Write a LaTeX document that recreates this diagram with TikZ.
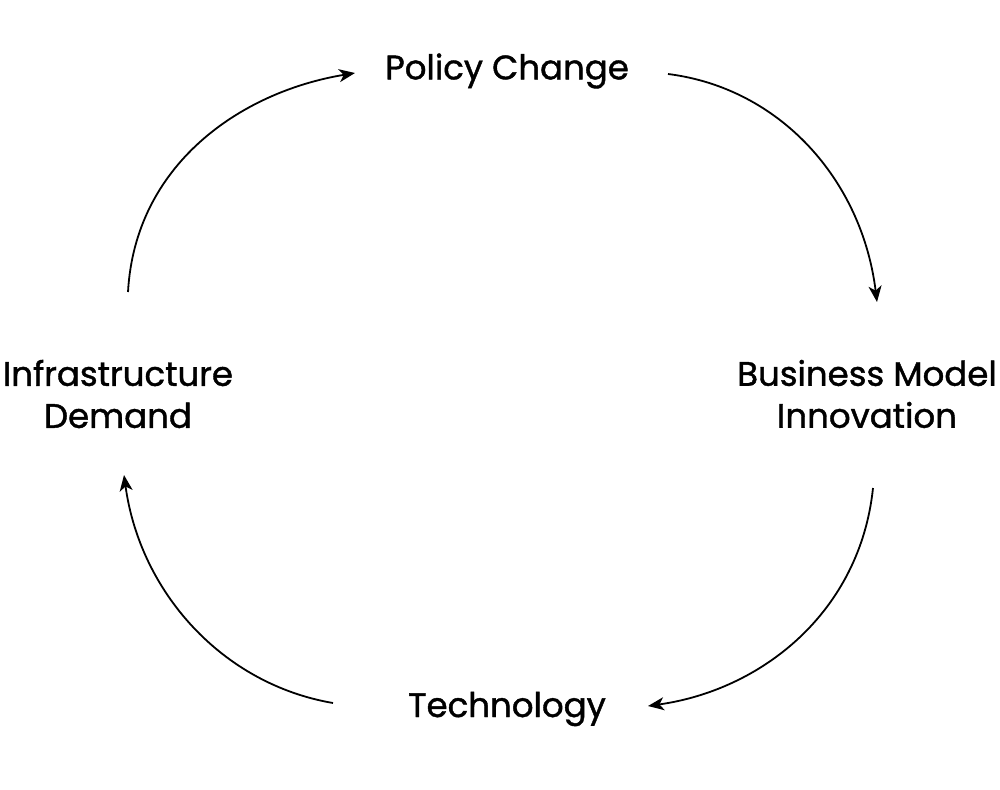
\documentclass[tikz,border=0pt]{standalone}
\usepackage{fontspec}
\setmainfont{Poppins}[FakeBold=1.2]
\usetikzlibrary{arrows.meta}
\begin{document}
\begin{tikzpicture}[x=1pt,y=-1pt,
  lbl/.style={font=\fontsize{34}{42}\selectfont, align=center, inner sep=0pt, text=black},
  flow/.style={line width=1.8pt, -{Stealth[length=16pt,width=13pt,inset=4.5pt]}}]
\useasboundingbox (0,0) rectangle (1000,789);
\node[lbl] (policy) at (507,71) {Policy Change};
\node[lbl] (business) at (867,394) {Business Model\\Innovation};
\node[lbl] (tech) at (507,709) {Technology};
\node[lbl] (infra) at (118,394) {Infrastructure\\Demand};
\coordinate (a1s) at (128,292);
\coordinate (a1e) at (355,73);
\coordinate (a2s) at (668,74);
\coordinate (a2e) at (877,302);
\coordinate (a3s) at (873,488);
\coordinate (a3e) at (648,706);
\coordinate (a4s) at (333,703);
\coordinate (a4e) at (124,475);
\draw[flow] (a1s) .. controls (135,165) and (240,92) .. (a1e);
\draw[flow] (a2s) .. controls (780,88) and (862,180) .. (a2e);
\draw[flow] (a3s) .. controls (860,612) and (762,690) .. (a3e);
\draw[flow] (a4s) .. controls (222,684) and (140,592) .. (a4e);
\end{tikzpicture}
\end{document}
